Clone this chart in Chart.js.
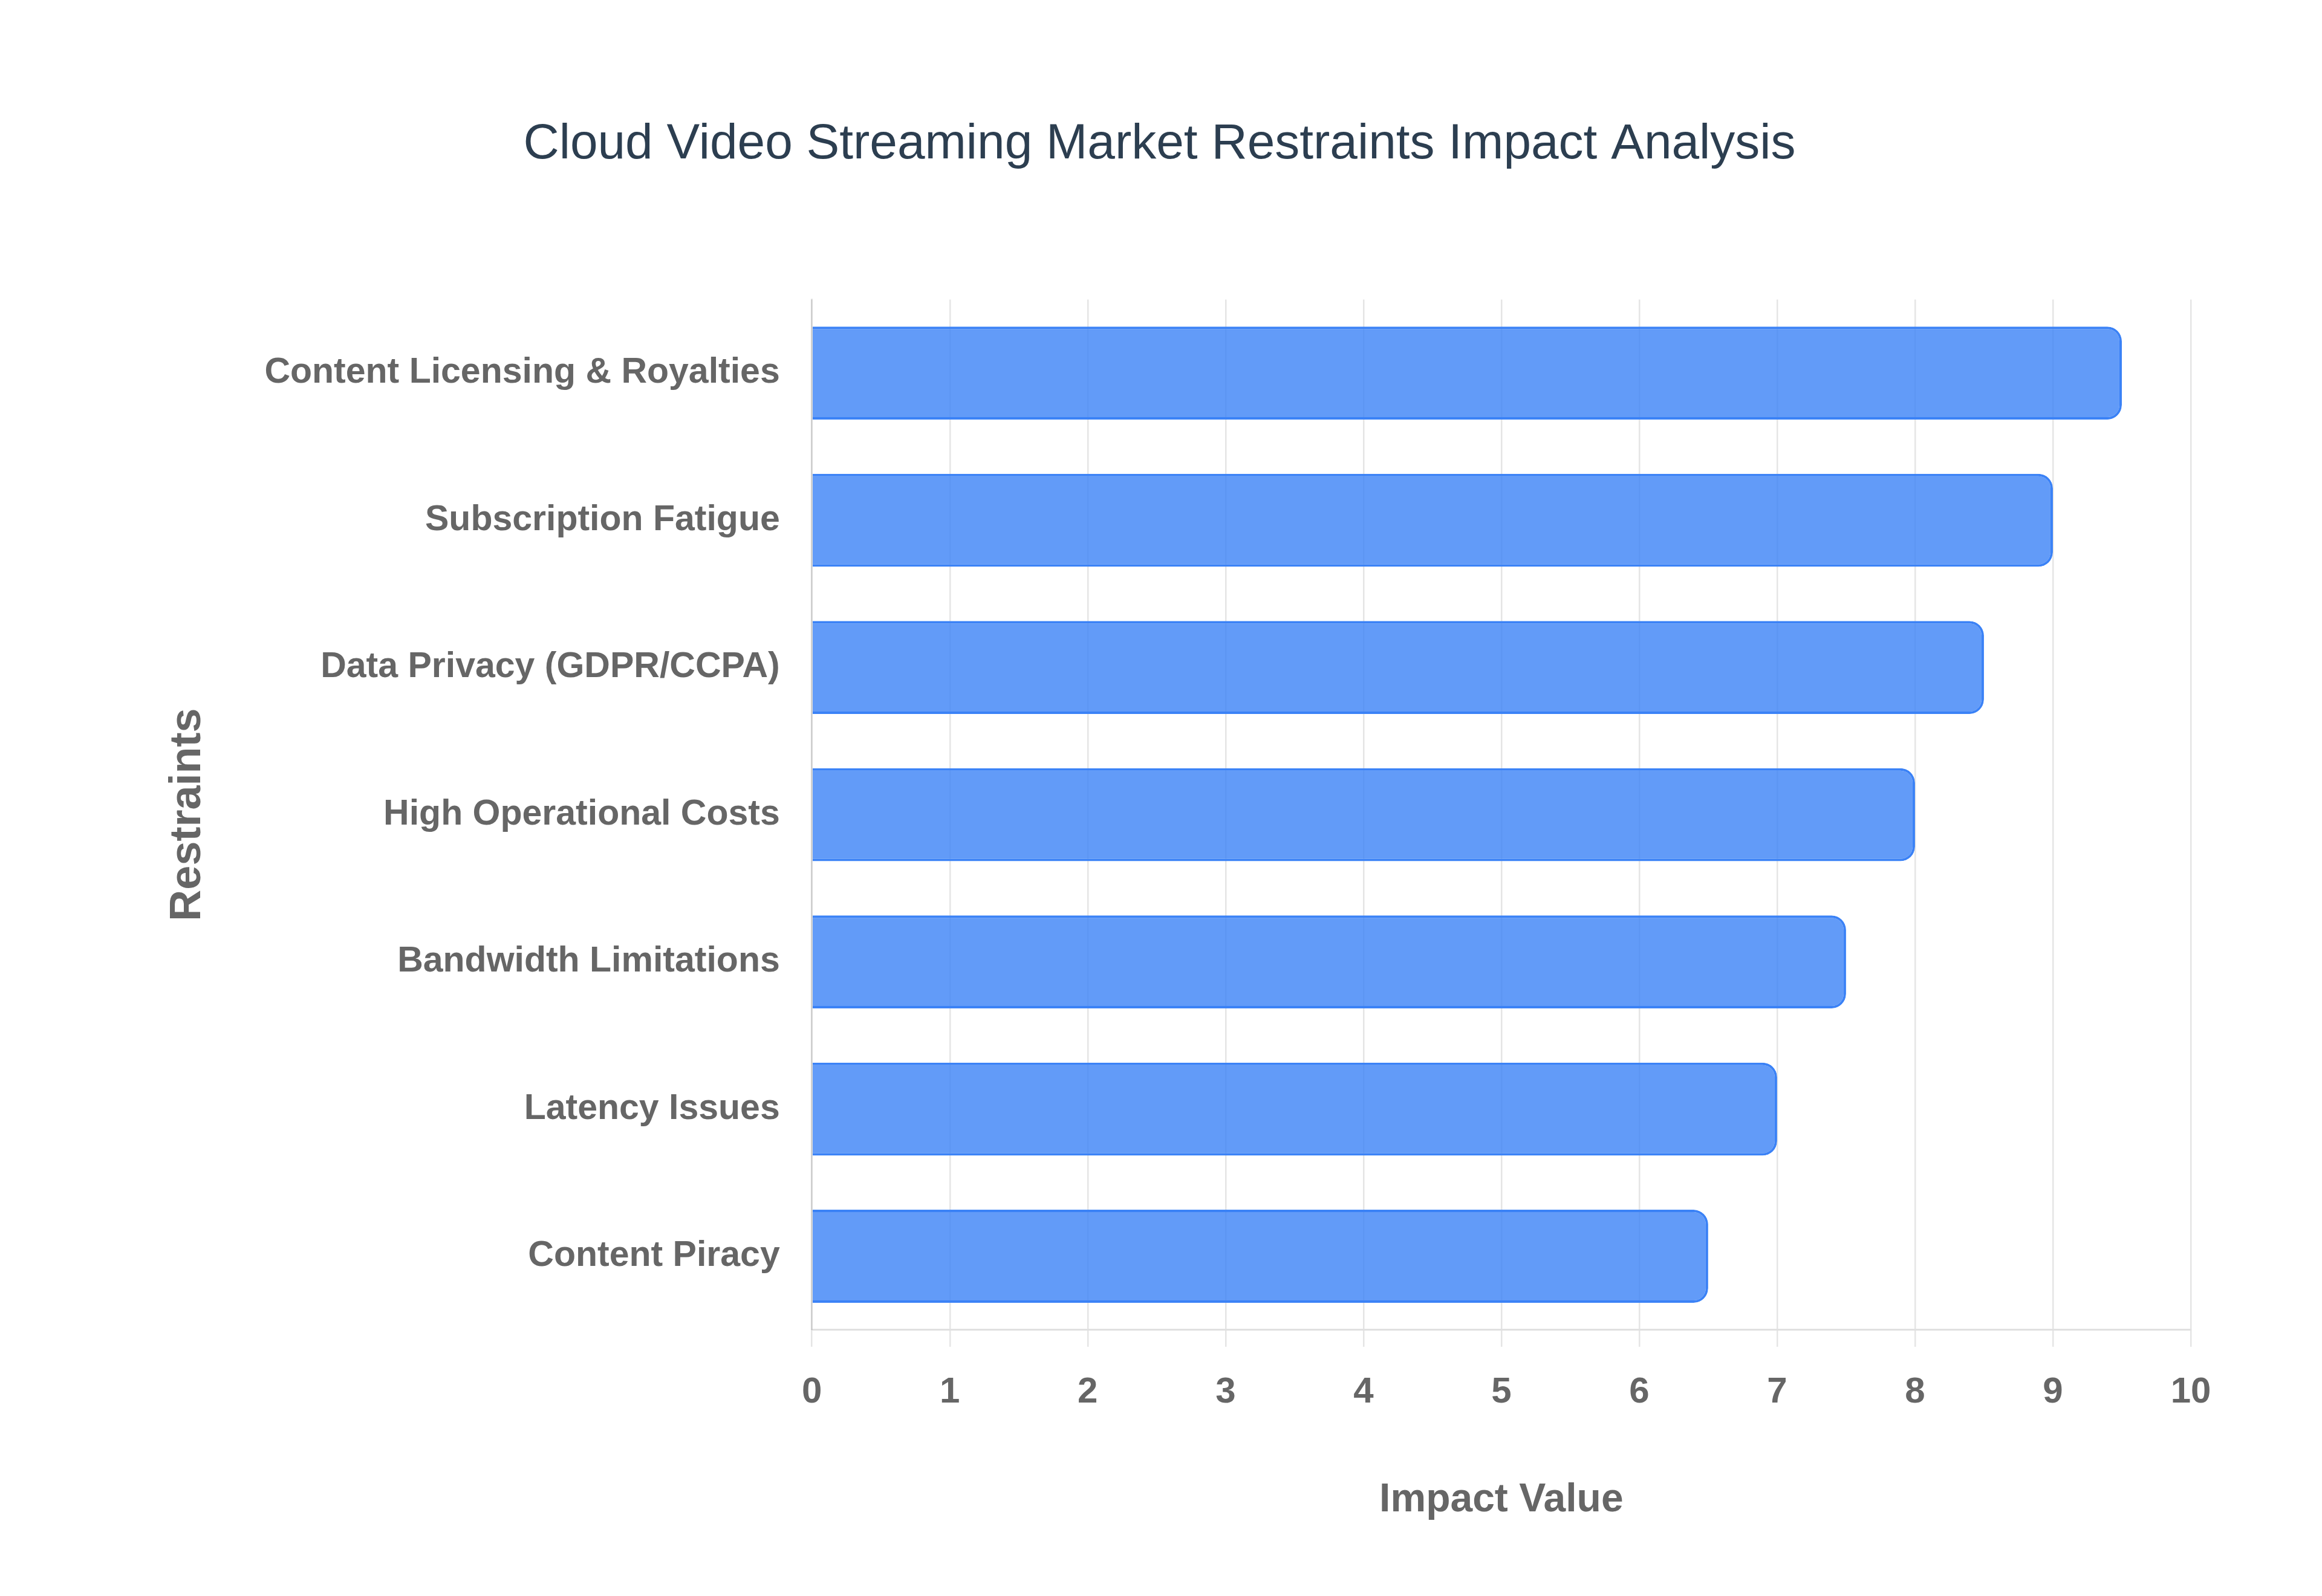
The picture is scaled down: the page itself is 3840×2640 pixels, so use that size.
<!DOCTYPE html>
<html>
<head>
<meta charset="utf-8">
<script src="https://cdn.jsdelivr.net/npm/chart.js@4"></script>
<style>
  html, body { margin: 0; padding: 0; background: #ffffff; }
  #c { display: block; }
</style>
</head>
<body>
<canvas id="c" width="3840" height="2640" style="width:3840px;height:2640px"></canvas>
<script>
const categories = [
  "Content Licensing & Royalties",
  "Subscription Fatigue",
  "Data Privacy (GDPR/CCPA)",
  "High Operational Costs",
  "Bandwidth Limitations",
  "Latency Issues",
  "Content Piracy"
];
const impactValues = [9.5, 9.0, 8.5, 8.0, 7.5, 7.0, 6.5];
const chartTitle = "Cloud Video Streaming Market Restraints Impact Analysis";
const xAxisTitle = "Impact Value";
const yAxisTitle = "Restraints";
const xMin = 0, xMax = 10, xStep = 1;

new Chart(document.getElementById('c'), {
  type: 'bar',
  data: {
    labels: categories,
    datasets: [{
      label: 'Impact',
      data: impactValues,
      backgroundColor: 'rgba(59,130,246,0.8)',
      borderColor: '#3b82f6',
      borderWidth: 4,
      borderRadius: 24,
      barPercentage: 0.79,
      categoryPercentage: 0.8
    }]
  },
  options: {
    indexAxis: 'y',
    responsive: false,
    devicePixelRatio: 1,
    animation: false,
    layout: { padding: { top: 0, left: 212, right: 217, bottom: 0 } },
    plugins: {
      legend: { display: false },
      tooltip: { enabled: false },
      title: {
        display: true,
        text: chartTitle,
        color: '#2c3e50',
        font: { family: "'Liberation Sans', Arial, sans-serif", size: 82, weight: 'normal' },
        padding: { top: 190, bottom: 207 }
      }
    },
    scales: {
      x: {
        min: xMin, max: xMax,
        ticks: {
          stepSize: xStep,
          color: '#666666',
          padding: 40,
          font: { family: "'Liberation Sans', Arial, sans-serif", size: 60, weight: 'bold' }
        },
        grid: { color: 'rgba(0,0,0,0.1)', lineWidth: 2.5, tickLength: 28, drawTicks: true },
        border: { color: 'rgba(0,0,0,0.12)', width: 3 },
        title: {
          display: true,
          text: xAxisTitle,
          color: '#666666',
          font: { family: "'Liberation Sans', Arial, sans-serif", size: 66, weight: 'bold' },
          padding: { top: 62, bottom: 119 }
        }
      },
      y: {
        ticks: {
          color: '#666666',
          padding: 53,
          font: { family: "'Liberation Sans', Arial, sans-serif", size: 59, weight: 'bold' }
        },
        grid: { display: false, drawTicks: false },
        border: { display: true, color: 'rgba(0,0,0,0.1)', width: 3 },
        title: {
          display: true,
          text: yAxisTitle,
          color: '#666666',
          font: { family: "'Liberation Sans', Arial, sans-serif", size: 72, weight: 'bold' },
          padding: { top: 56, bottom: 30 }
        }
      }
    }
  }
});
</script>
</body>
</html>
